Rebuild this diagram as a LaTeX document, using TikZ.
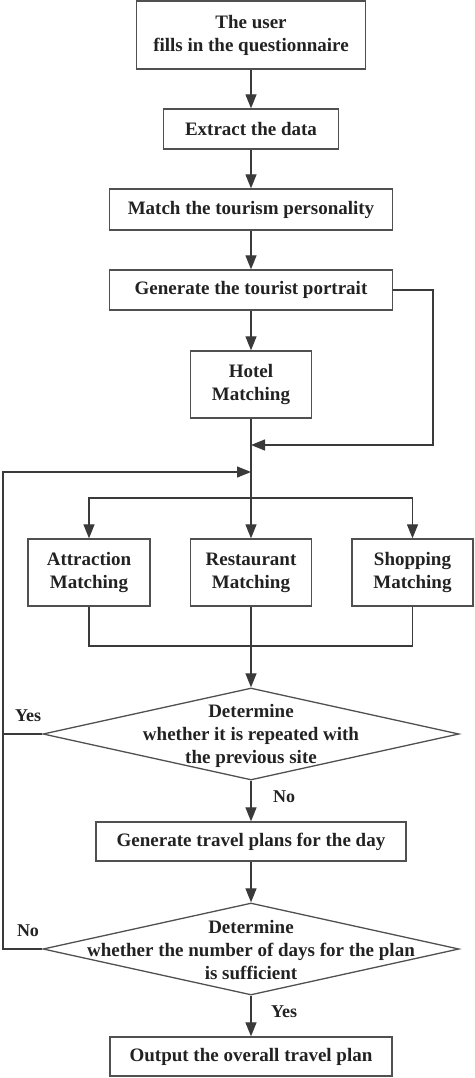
\documentclass[tikz,border=0pt]{standalone}
\usepackage{fontspec}
\setmainfont{Liberation Serif}
\usetikzlibrary{arrows.meta,shapes.geometric}
\definecolor{linec}{HTML}{3A3A3A}
\definecolor{boxc}{HTML}{505050}
\definecolor{txtc}{HTML}{222222}
\begin{document}
\begin{tikzpicture}[x=1pt,y=-1pt,
  every node/.style={font=\fontsize{19}{23}\selectfont\bfseries, text=txtc},
  procbox/.style={draw=boxc, line width=1.3pt, rectangle, inner sep=0pt, align=center},
  decision/.style={draw=boxc, line width=1.3pt, diamond, aspect=1, inner sep=0pt},
  dtext/.style={align=center, inner sep=0pt},
  lbl/.style={inner sep=0pt, font=\fontsize{18}{22}\selectfont\bfseries},
  conn/.style={draw=linec, line width=1.2pt},
  arr/.style={conn, -{Triangle[length=14pt,width=11pt]}}
]
\useasboundingbox (0,0) rectangle (474,1078);

\node[procbox, minimum width=229pt, minimum height=68pt] (b1) at (251,35) {The user\\fills in the questionnaire};
\node[procbox, minimum width=175pt, minimum height=40pt] (b2) at (251,129) {Extract the data};
\node[procbox, minimum width=283pt, minimum height=41pt] (b3) at (251,209.5) {Match the tourism personality};
\node[procbox, minimum width=283pt, minimum height=40pt] (b4) at (251,290) {Generate the tourist portrait};
\node[procbox, minimum width=121pt, minimum height=67pt] (hotel) at (251,384.5) {Hotel\\Matching};
\node[procbox, minimum width=122pt, minimum height=67pt] (attr) at (89,572.5) {Attraction\\Matching};
\node[procbox, minimum width=121pt, minimum height=67pt] (rest) at (251,572.5) {Restaurant\\Matching};
\node[procbox, minimum width=121pt, minimum height=67pt] (shop) at (412.5,572.5) {Shopping\\Matching};
\node[decision, minimum width=416pt, minimum height=92pt] (d1) at (251,734) {};
\node[dtext] (d1t) at (251,736) {Determine\\whether it is repeated with\\the previous site};
\node[procbox, minimum width=310pt, minimum height=39pt] (gen) at (251,841.5) {Generate travel plans for the day};
\node[decision, minimum width=416pt, minimum height=92pt] (d2) at (251,949) {};
\node[dtext] (d2t) at (251,950) {Determine\\whether the number of days for the plan\\is sufficient};
\node[procbox, minimum width=282pt, minimum height=39pt] (final) at (251,1056.5) {Output the overall travel plan};

\node[lbl] (yes1) at (28,716) {Yes};
\node[lbl] (no1) at (284,797) {No};
\node[lbl] (no2) at (28,931) {No};
\node[lbl] (yes2) at (284,1012) {Yes};

\coordinate (j1) at (251,445);
\coordinate (j2) at (251,472);
\coordinate (br) at (251,498);
\coordinate (mg) at (251,646);
\coordinate (rx) at (433,445);
\coordinate (lx) at (3,472);

\draw[arr] (b1.south) -- (b2.north);
\draw[arr] (b2.south) -- (b3.north);
\draw[arr] (b3.south) -- (b4.north);
\draw[arr] (b4.south) -- (hotel.north);
\draw[arr] (b4.east) -| (rx) -- (j1);
\draw[arr] (hotel.south) -- (rest.north);
\draw[arr] (br) -| (attr.north);
\draw[arr] (br) -| (shop.north);
\draw[conn] (attr.south) |- (mg);
\draw[conn] (shop.south) |- (mg);
\draw[arr] (rest.south) -- (d1.north);
\draw[arr] (d1.south) -- (gen.north);
\draw[arr] (gen.south) -- (d2.north);
\draw[arr] (d2.south) -- (final.north);
\draw[conn] (d1.west) -- (d1.west -| lx);
\draw[arr] (d2.west) -- (d2.west -| lx) -- (lx) -- (j2);
\end{tikzpicture}
\end{document}
